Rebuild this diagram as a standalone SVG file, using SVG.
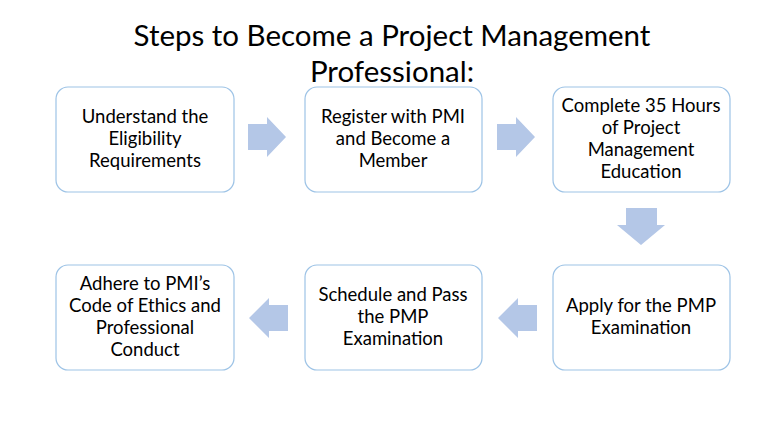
<svg xmlns="http://www.w3.org/2000/svg" width="768" height="432" viewBox="0 0 768 432">
<style>
.box{fill:#fff;stroke:#9dc3e6;stroke-width:1.2}
.t{font-family:"Lato","Liberation Sans",sans-serif;font-size:18.5px;fill:#000;text-anchor:middle}
.title{font-family:"Lato","Liberation Sans",sans-serif;font-size:29.5px;fill:#000;text-anchor:middle}
.arr{fill:#b4c7e7}
</style>
<rect width="768" height="432" fill="#fff"/>
<g id="title">
<text class="title" x="392" y="46">Steps to Become a Project Management</text>
<text class="title" x="392" y="82">Professional:</text>
</g>
<g id="n1"><rect class="box" x="56" y="87" width="178" height="105" rx="12"/>
<text class="t" x="145" y="123">Understand the</text><text class="t" x="145" y="145">Eligibility</text><text class="t" x="145" y="167">Requirements</text></g>
<g id="n2"><rect class="box" x="305" y="87" width="177" height="105" rx="12"/>
<text class="t" x="393" y="123">Register with PMI</text><text class="t" x="393" y="145">and Become a</text><text class="t" x="393" y="167">Member</text></g>
<g id="n3"><rect class="box" x="553" y="87" width="177" height="105" rx="12"/>
<text class="t" x="641" y="112">Complete 35 Hours</text><text class="t" x="641" y="134">of Project</text><text class="t" x="641" y="156">Management</text><text class="t" x="641" y="178">Education</text></g>
<g id="n4"><rect class="box" x="553" y="265" width="177" height="105" rx="12"/>
<text class="t" x="641" y="312">Apply for the PMP</text><text class="t" x="641" y="334">Examination</text></g>
<g id="n5"><rect class="box" x="305" y="265" width="177" height="105" rx="12"/>
<text class="t" x="393" y="301">Schedule and Pass</text><text class="t" x="393" y="323">the PMP</text><text class="t" x="393" y="345">Examination</text></g>
<g id="n6"><rect class="box" x="56" y="265" width="178" height="105" rx="12"/>
<text class="t" x="145" y="290">Adhere to PMI’s</text><text class="t" x="145" y="312">Code of Ethics and</text><text class="t" x="145" y="334">Professional</text><text class="t" x="145" y="356">Conduct</text></g>
<g id="connectors">
<polygon class="arr" points="248,124 267,124 267,117 286,137 267,157 267,150 248,150"/>
<polygon class="arr" points="497,124 516,124 516,117 535,137 516,157 516,150 497,150"/>
<polygon class="arr" points="626,208 657,208 657,225 665,225 641,245 617,225 626,225"/>
<polygon class="arr" points="537,305 518,305 518,298 498,318 518,338 518,331 537,331"/>
<polygon class="arr" points="288,305 269,305 269,298 249,318 269,338 269,331 288,331"/>
</g>
</svg>
